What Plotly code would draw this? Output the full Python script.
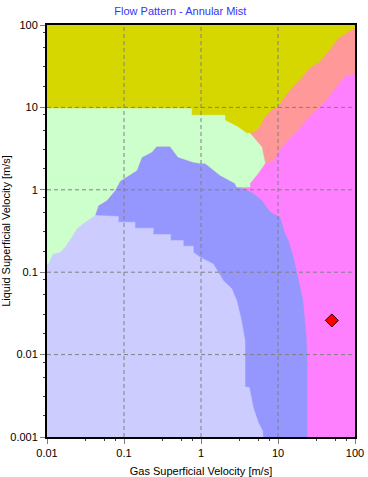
import plotly.graph_objects as go

# ---- axis ticks ----
X_TICKS = [0.01, 0.1, 1, 10, 100]
X_TICK_TEXT = ["0.01", "0.1", "1", "10", "100"]
Y_TICKS = [0.001, 0.01, 0.1, 1, 10, 100]
Y_TICK_TEXT = ["0.001", "0.01", "0.1", "1", "10", "100"]
X_MINOR = [0.032, 0.055, 0.078, 0.32, 0.55, 0.78, 3.2, 5.5, 7.8, 32, 55, 78]
Y_MINOR = [0.0018, 0.0031, 0.0053, 0.0081, 0.018, 0.031, 0.053, 0.081,
           0.18, 0.31, 0.53, 0.81, 1.8, 3.1, 5.3, 8.1, 18, 31, 53, 81]

# ---- flow-pattern regions (boundary polygons, m/s) ----
yellow_x = [0.01, 100, 100, 0.01]
yellow_y = [0.001, 0.001, 100, 100]

salmon_x = [4.33, 5.03, 5.84, 6.78, 8.28, 10.0, 12.3, 15.7, 20.3, 26.0, 35.1,
            47.3, 60.1, 78.0, 88.0, 100, 100, 4.33]
salmon_y = [4.85, 5.04, 5.79, 7.66, 9.25, 10.1, 13.4, 17.8, 22.7, 30.0, 35.8,
            49.7, 67.5, 79.3, 86.0, 90.0, 0.001, 0.001]

magenta_x = [6.78, 8.69, 10.1, 13.6, 17.5, 23.6, 31.8, 42.9, 57.9, 78.0, 94.2,
             100, 100, 23.8, 23.8, 23.1, 20.9, 18.0, 15.8, 13.6, 12.3, 10.6,
             7.87, 6.14, 4.78, 3.54, 4.33, 4.33, 5.50]
magenta_y = [2.10, 2.17, 2.87, 3.99, 5.04, 6.99, 9.25, 12.2, 17.8, 24.6, 24.6,
             26.8, 0.001, 0.001, 0.0102, 0.0178, 0.0473, 0.0909, 0.152, 0.242,
             0.292, 0.465, 0.536, 0.743, 0.897, 1.03, 1.08, 1.20, 1.58]

peri_x = [0.042, 0.0464, 0.0596, 0.0764, 0.0887, 0.146, 0.170, 0.229, 0.266,
          0.396, 0.503, 0.787, 0.97, 1.13, 1.77, 2.76, 2.91, 3.54, 4.78, 6.14,
          7.87, 10.6, 12.3, 13.6, 15.8, 18.0, 20.9, 23.1, 23.8, 23.8, 0.01,
          0.01, 0.0104, 0.012, 0.0148, 0.0171, 0.0209, 0.0243, 0.0311]
peri_y = [0.488, 0.646, 0.743, 0.983, 1.28, 1.72, 2.48, 2.87, 3.37, 3.37, 2.50,
          2.17, 2.10, 2.10, 1.50, 1.20, 1.08, 1.03, 0.897, 0.743, 0.536, 0.465,
          0.292, 0.242, 0.152, 0.0909, 0.0473, 0.0178, 0.0102, 0.001, 0.001,
          0.126, 0.126, 0.168, 0.175, 0.201, 0.266, 0.336, 0.405]

lav_x = [0.01, 0.0104, 0.012, 0.0148, 0.0171, 0.0209, 0.0243, 0.0311, 0.042,
         0.0844, 0.0844, 0.139, 0.139, 0.240, 0.240, 0.404, 0.404, 0.589, 0.589,
         0.794, 0.794, 0.97, 1.44, 1.68, 1.95, 2.50, 2.91, 3.28, 3.73, 3.73,
         4.24, 4.78, 5.55, 6.33, 6.38, 0.01]
lav_y = [0.126, 0.126, 0.168, 0.175, 0.201, 0.266, 0.336, 0.405, 0.488, 0.475,
         0.405, 0.405, 0.342, 0.342, 0.287, 0.287, 0.242, 0.242, 0.207, 0.207,
         0.175, 0.152, 0.126, 0.0997, 0.079, 0.0632, 0.0451, 0.0283, 0.0147,
         0.00406, 0.00398, 0.00227, 0.00149, 0.00118, 0.001, 0.001]

green_x = [0.01, 0.757, 0.757, 2.05, 2.05, 3.02, 3.92, 4.33, 6.14, 6.78, 5.50,
           4.33, 4.33, 2.91, 2.76, 1.77, 1.13, 0.97, 0.787, 0.503, 0.396, 0.266,
           0.229, 0.170, 0.146, 0.0887, 0.0764, 0.0596, 0.0464, 0.042, 0.0311,
           0.0243, 0.0209, 0.0171, 0.0148, 0.012, 0.0104, 0.01]
green_y = [9.7, 9.7, 8.04, 8.04, 6.99, 5.79, 4.85, 4.85, 3.31, 2.10, 1.58,
           1.20, 1.08, 1.08, 1.20, 1.50, 2.10, 2.10, 2.17, 2.50, 3.37, 3.37,
           2.87, 2.48, 1.72, 1.28, 0.983, 0.743, 0.646, 0.488, 0.405, 0.336,
           0.266, 0.201, 0.175, 0.168, 0.126, 0.126]

# operating point
point_x = [50]
point_y = [0.026]

REGIONS = [
    (yellow_x, yellow_y, "#D6D600"),
    (salmon_x, salmon_y, "#FF9999"),
    (magenta_x, magenta_y, "#FF80FF"),
    (peri_x, peri_y, "#9696FF"),
    (lav_x, lav_y, "#CCCCFF"),
    (green_x, green_y, "#CCFFCC"),
]

FONT = "Liberation Sans, Arial, sans-serif"

fig = go.Figure()
for xs, ys, col in REGIONS:
    fig.add_trace(go.Scatter(x=xs, y=ys, mode="lines", fill="toself",
                             fillcolor=col, line=dict(width=0.5, color=col),
                             hoverinfo="skip", showlegend=False))

# dashed grid drawn above the filled regions
for v in X_TICKS[1:-1]:
    fig.add_trace(go.Scatter(x=[v, v], y=[Y_TICKS[0], Y_TICKS[-1]], mode="lines",
                             line=dict(color="#808080", width=1, dash="4px,3px"),
                             hoverinfo="skip", showlegend=False))
for v in Y_TICKS[1:-1]:
    fig.add_trace(go.Scatter(x=[X_TICKS[0], X_TICKS[-1]], y=[v, v], mode="lines",
                             line=dict(color="#808080", width=1, dash="4px,3px"),
                             hoverinfo="skip", showlegend=False))

fig.add_trace(go.Scatter(x=point_x, y=point_y, mode="markers",
                         marker=dict(symbol="diamond", size=10, color="#FF0000",
                                     line=dict(color="#200000", width=1)),
                         showlegend=False))

axis_common = dict(
    type="log", showgrid=False, zeroline=False, automargin=False,
    showline=True, linecolor="black", linewidth=2, mirror=True,
    ticks="outside", ticklen=5, tickcolor="#808080", tickwidth=1,
    tickfont=dict(family=FONT, size=11, color="black"),
    title_font=dict(family=FONT, size=11, color="black"),
)

fig.update_layout(
    width=368, height=477,
    margin=dict(l=47, r=13, t=25, b=40),
    paper_bgcolor="white", plot_bgcolor="#D6D600",
    title=dict(text="Flow Pattern - Annular Mist", x=0.49, xanchor="center",
               y=0.977, yanchor="middle",
               font=dict(family=FONT, size=11, color="#3535F5")),
    xaxis=dict(range=[-2, 2], tickvals=X_TICKS, ticktext=X_TICK_TEXT,
               title=dict(text="Gas Superficial Velocity [m/s]"),
               minor=dict(tickmode="array", tickvals=X_MINOR, ticks="outside",
                          ticklen=2, tickcolor="#404040", showgrid=False),
               **axis_common),
    yaxis=dict(range=[-3, 2], tickvals=Y_TICKS, ticktext=Y_TICK_TEXT,
               title=dict(text="Liquid Superficial Velocity [m/s]"),
               minor=dict(tickmode="array", tickvals=Y_MINOR, ticks="outside",
                          ticklen=2, tickcolor="#404040", showgrid=False),
               **axis_common),
    showlegend=False,
)

fig.write_html("out.html")
